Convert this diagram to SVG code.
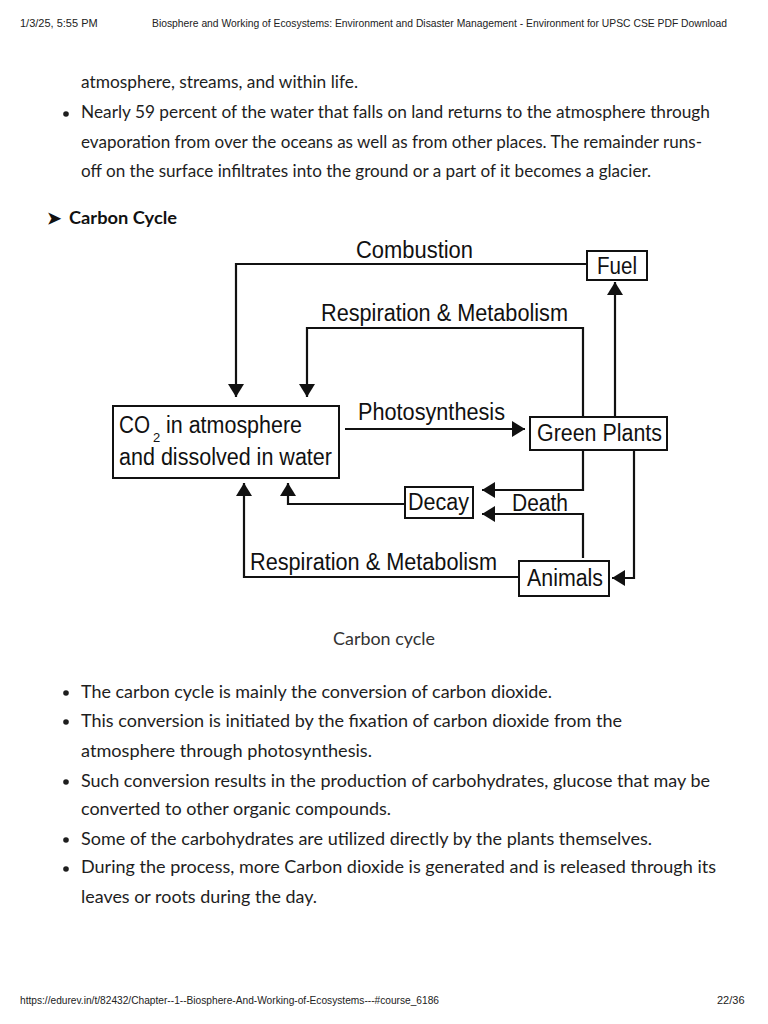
<svg xmlns="http://www.w3.org/2000/svg" width="768" height="1024" viewBox="0 0 768 1024">
<style>
.hdr{font-family:"Liberation Sans",Arial,sans-serif;font-size:11px;fill:#222}
.body{font-family:Lato,"Noto Sans",sans-serif;font-size:16.5px;fill:#1e1e1e}
.cap{font-family:Lato,"Noto Sans",sans-serif;font-size:16.5px;fill:#333}
.head{font-family:Lato,"Noto Sans",sans-serif;font-size:16.5px;font-weight:bold;fill:#111}
.lbl{font-family:"Liberation Sans",Arial,sans-serif;font-size:23px;fill:#111}
.sub{font-family:"Liberation Sans",Arial,sans-serif;font-size:13px;fill:#111}
.box{fill:#fff;stroke:#111;stroke-width:2}
.con{fill:none;stroke:#111;stroke-width:2.2}
.dot{fill:#1e1e1e}
</style>
<defs>
<marker id="ah" markerUnits="userSpaceOnUse" markerWidth="14" markerHeight="16" refX="13" refY="8" orient="auto">
<path d="M0,0 L13,8 L0,16 z" fill="#111"/>
</marker>
</defs>
<rect width="768" height="1024" fill="#fff"/>
<text class="hdr" x="20" y="27">1/3/25, 5:55 PM</text>
<text class="hdr" x="152" y="27" textLength="575" lengthAdjust="spacingAndGlyphs">Biosphere and Working of Ecosystems: Environment and Disaster Management - Environment for UPSC CSE PDF Download</text>

<text class="body" x="81" y="88" textLength="277" lengthAdjust="spacingAndGlyphs">atmosphere, streams, and within life.</text>
<circle class="dot" cx="66" cy="114" r="2.8"/>
<text class="body" x="81" y="118" textLength="629" lengthAdjust="spacingAndGlyphs">Nearly 59 percent of the water that falls on land returns to the atmosphere through</text>
<text class="body" x="81" y="148" textLength="621" lengthAdjust="spacingAndGlyphs">evaporation from over the oceans as well as from other places. The remainder runs-</text>
<text class="body" x="81" y="177" textLength="570" lengthAdjust="spacingAndGlyphs">off on the surface infiltrates into the ground or a part of it becomes a glacier.</text>
<text class="head" x="47" y="224">➤</text>
<text class="head" x="69" y="224" textLength="108" lengthAdjust="spacingAndGlyphs">Carbon Cycle</text>

<g id="connectors">
<path class="con" d="M587,264 H236 V397" marker-end="url(#ah)"/>
<path class="con" d="M583,417 V328 H307 V397" marker-end="url(#ah)"/>
<path class="con" d="M615,417 V282" marker-end="url(#ah)"/>
<path class="con" d="M345,429 H525" marker-end="url(#ah)"/>
<path class="con" d="M583,450 V490 H482" marker-end="url(#ah)"/>
<path class="con" d="M583,558 V514 H482" marker-end="url(#ah)"/>
<path class="con" d="M405,504 H288 V483" marker-end="url(#ah)"/>
<path class="con" d="M519,577 H244 V483" marker-end="url(#ah)"/>
<path class="con" d="M634,450 V578 H612" marker-end="url(#ah)"/>
</g>

<g id="edge-labels">
<text class="lbl" x="356" y="258" textLength="117" lengthAdjust="spacingAndGlyphs">Combustion</text>
<text class="lbl" x="321" y="321" textLength="247" lengthAdjust="spacingAndGlyphs">Respiration &amp; Metabolism</text>
<text class="lbl" x="358" y="420" textLength="147" lengthAdjust="spacingAndGlyphs">Photosynthesis</text>
<text class="lbl" x="512" y="511" textLength="56" lengthAdjust="spacingAndGlyphs">Death</text>
<text class="lbl" x="250" y="570" textLength="247" lengthAdjust="spacingAndGlyphs">Respiration &amp; Metabolism</text>
</g>

<g id="co2">
<rect class="box" x="113" y="406" width="226" height="72"/>
<text class="lbl" x="119" y="433" textLength="31" lengthAdjust="spacingAndGlyphs">CO</text>
<text class="sub" x="153" y="442">2</text>
<text class="lbl" x="166" y="433" textLength="136" lengthAdjust="spacingAndGlyphs">in atmosphere</text>
<text class="lbl" x="119" y="465" textLength="213" lengthAdjust="spacingAndGlyphs">and dissolved in water</text>
</g>
<g id="fuel">
<rect class="box" x="587" y="251" width="60" height="29"/>
<text class="lbl" x="597" y="274" textLength="40" lengthAdjust="spacingAndGlyphs">Fuel</text>
</g>
<g id="green-plants">
<rect class="box" x="530" y="417" width="137" height="33"/>
<text class="lbl" x="537" y="441" textLength="125" lengthAdjust="spacingAndGlyphs">Green Plants</text>
</g>
<g id="decay">
<rect class="box" x="405" y="487" width="68" height="31"/>
<text class="lbl" x="408" y="510" textLength="61" lengthAdjust="spacingAndGlyphs">Decay</text>
</g>
<g id="animals">
<rect class="box" x="519" y="561" width="90" height="35"/>
<text class="lbl" x="527" y="586" textLength="76" lengthAdjust="spacingAndGlyphs">Animals</text>
</g>

<text class="cap" x="333" y="645" textLength="102" lengthAdjust="spacingAndGlyphs">Carbon cycle</text>

<circle class="dot" cx="66" cy="693" r="2.8"/>
<text class="body" x="81" y="698" textLength="471" lengthAdjust="spacingAndGlyphs">The carbon cycle is mainly the conversion of carbon dioxide.</text>
<circle class="dot" cx="66" cy="722" r="2.8"/>
<text class="body" x="81" y="727" textLength="541" lengthAdjust="spacingAndGlyphs">This conversion is initiated by the fixation of carbon dioxide from the</text>
<text class="body" x="81" y="757" textLength="291" lengthAdjust="spacingAndGlyphs">atmosphere through photosynthesis.</text>
<circle class="dot" cx="66" cy="782" r="2.8"/>
<text class="body" x="81" y="787" textLength="629" lengthAdjust="spacingAndGlyphs">Such conversion results in the production of carbohydrates, glucose that may be</text>
<text class="body" x="81" y="815" textLength="310" lengthAdjust="spacingAndGlyphs">converted to other organic compounds.</text>
<circle class="dot" cx="66" cy="840" r="2.8"/>
<text class="body" x="81" y="845" textLength="571" lengthAdjust="spacingAndGlyphs">Some of the carbohydrates are utilized directly by the plants themselves.</text>
<circle class="dot" cx="66" cy="869" r="2.8"/>
<text class="body" x="81" y="873" textLength="635" lengthAdjust="spacingAndGlyphs">During the process, more Carbon dioxide is generated and is released through its</text>
<text class="body" x="81" y="903" textLength="236" lengthAdjust="spacingAndGlyphs">leaves or roots during the day.</text>

<text class="hdr" x="20" y="1004" textLength="419" lengthAdjust="spacingAndGlyphs">https://edurev.in/t/82432/Chapter--1--Biosphere-And-Working-of-Ecosystems---#course_6186</text>
<text class="hdr" x="717" y="1004">22/36</text>
</svg>
